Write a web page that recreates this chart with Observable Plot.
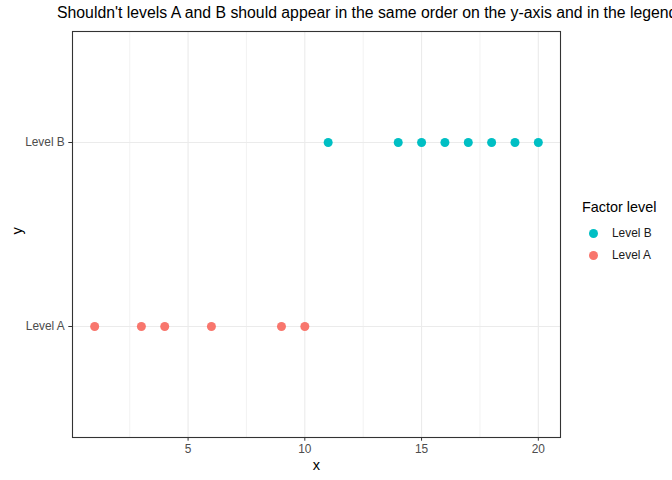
<!DOCTYPE html>
<html>
<head>
<meta charset="utf-8">
<script src="https://cdn.jsdelivr.net/npm/d3@7"></script>
<script src="https://cdn.jsdelivr.net/npm/@observablehq/plot@0.6"></script>
<style>
  html, body { margin: 0; padding: 0; background: #fff; }
  #wrap { position: relative; width: 672px; height: 480px; overflow: hidden; font-family: "Liberation Sans", Arial, sans-serif; }
  #title { position: absolute; left: 57px; top: 4px; font-size: 15.8px; color: #000; white-space: nowrap; }
  #legend { position: absolute; left: 582px; top: 199px; }
  #legend .lt { font-size: 14.4px; color: #000; margin-bottom: 7px; }
  #legend .row { display: flex; align-items: center; height: 22px; font-size: 11.9px; color: #1a1a1a; }
  #legend .sw { width: 9px; height: 9px; border-radius: 50%; margin-left: 7px; margin-right: 14px; }
</style>
</head>
<body>
<div id="wrap">
  <div id="chart"></div>
  <div id="title"></div>
  <div id="legend"></div>
</div>
<script>
const titleText = "Shouldn't levels A and B should appear in the same order on the y-axis and in the legend?";
const levels = ["Level B", "Level A"];         // legend / y-axis order (top to bottom)
const levelColors = ["#00BFC4", "#F8766D"];
const xA = [1, 3, 4, 6, 9, 10];
const xB = [11, 14, 15, 16, 17, 18, 19, 20];
const xMajor = [5, 10, 15, 20];
const xMinor = [2.5, 7.5, 12.5, 17.5];

const data = [
  ...xA.map(x => ({x, y: "Level A"})),
  ...xB.map(x => ({x, y: "Level B"}))
];

const plot = Plot.plot({
  width: 672,
  height: 480,
  marginLeft: 72,
  marginRight: 112,
  marginTop: 31,
  marginBottom: 43,
  style: { fontFamily: "Liberation Sans, Arial, sans-serif", background: "#fff" },
  x: { domain: [0.05, 20.95] },
  y: { type: "point", domain: levels, padding: 0.6 },
  color: { domain: levels, range: levelColors },
  marks: [
    Plot.ruleX(xMinor, { stroke: "#ebebeb", strokeWidth: 0.6 }),
    Plot.ruleX(xMajor, { stroke: "#ebebeb", strokeWidth: 1.1 }),
    Plot.ruleY(levels, { y: d => d, stroke: "#ebebeb", strokeWidth: 1.1 }),
    Plot.axisX(xMajor, { tickSize: 3.7, tickPadding: 3, stroke: "#333", color: "#4d4d4d", fontSize: 11.9, label: null }),
    Plot.axisY(levels, { tickSize: 3.7, tickPadding: 4, stroke: "#333", color: "#4d4d4d", fontSize: 11.9, label: null }),
    Plot.dot(data, { x: "x", y: "y", fill: "y", r: 4.5 }),
    Plot.frame({ stroke: "#333", strokeWidth: 1.1 }),
    Plot.text(["x"], { frameAnchor: "bottom", dy: 32, fontSize: 14.6, fill: "#000" }),
    Plot.text(["y"], { frameAnchor: "left", dx: -55, rotate: -90, fontSize: 14.6, fill: "#000" })
  ]
});
document.getElementById("chart").appendChild(plot);
document.getElementById("title").textContent = titleText;

const legend = document.getElementById("legend");
const lt = document.createElement("div");
lt.className = "lt";
lt.textContent = "Factor level";
legend.appendChild(lt);
levels.forEach((lv, i) => {
  const row = document.createElement("div");
  row.className = "row";
  const sw = document.createElement("span");
  sw.className = "sw";
  sw.style.background = levelColors[i];
  const lab = document.createElement("span");
  lab.textContent = lv;
  row.appendChild(sw);
  row.appendChild(lab);
  legend.appendChild(row);
});
</script>
</body>
</html>
